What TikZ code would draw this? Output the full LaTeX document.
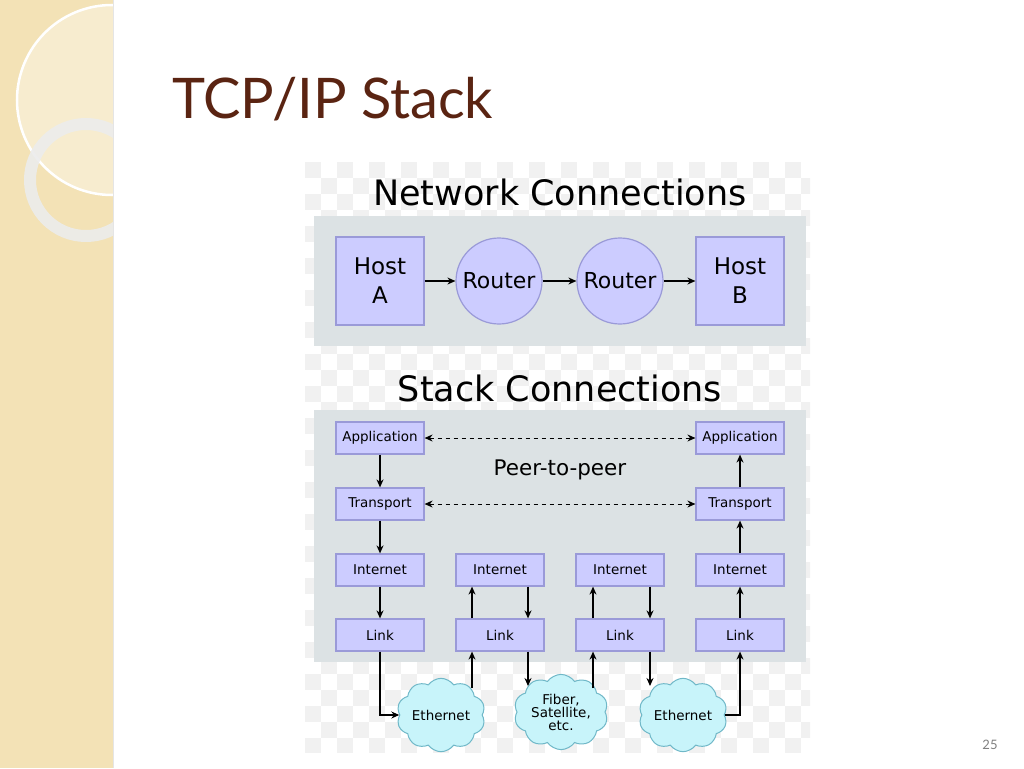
\documentclass[tikz,border=0pt]{standalone}
\usepackage{fontspec}
\setmainfont{DejaVu Sans}
\newfontfamily\titlefont{Lato}
\usetikzlibrary{shapes.symbols,arrows.meta}
\definecolor{beige}{HTML}{F3E2B6}
\definecolor{titlec}{HTML}{5A2412}
\definecolor{panel}{HTML}{DCE2E4}
\definecolor{boxf}{HTML}{CCCCFF}
\definecolor{boxd}{HTML}{9A9AD8}
\definecolor{cloudf}{HTML}{C8F4FA}
\definecolor{cloudd}{HTML}{70B8C8}
\definecolor{chk}{HTML}{F1F1F1}
\tikzset{
 box/.style={draw=boxd,fill=boxf,line width=1.2pt,minimum width=88pt,minimum height=32pt,inner sep=0pt,font=\fontsize{13.5}{15}\selectfont},
 host/.style={box,minimum height=88pt,align=center,font=\fontsize{23}{29}\selectfont},
 router/.style={draw=boxd,fill=boxf,line width=1.2pt,circle,minimum size=86pt,inner sep=0pt,font=\fontsize{22}{28}\selectfont},
 cld/.style={cloud,cloud puffs=10,cloud puff arc=110,aspect=1.3,draw=cloudd,fill=cloudf,line width=1pt,minimum width=88pt,minimum height=72pt,inner sep=0pt,align=center,font=\fontsize{13.5}{13}\selectfont},
 ar/.style={-{Stealth[length=8pt,width=7pt]},line width=1.3pt},
 dar/.style={{Stealth[length=8pt,width=7pt]}-{Stealth[length=8pt,width=7pt]},line width=1pt,dash pattern=on 4pt off 4pt},
 hd/.style={font=\fontsize{35}{40}\selectfont}
}
\begin{document}
\begin{tikzpicture}[x=1pt,y=-1pt]
\useasboundingbox (0,0) rectangle (1024,768);
\fill[white] (0,0) rectangle (1024,768);
% left strip
\begin{scope}
\clip (0,0) rectangle (113,768);
\fill[beige] (0,0) rectangle (113,768);
\fill[white,opacity=0.35] (112,100) circle (95);
\draw[white,line width=2.5pt] (112,100) circle (95);
\draw[white!85!gray,line width=12pt,opacity=0.9] (86,180) circle (56);
\end{scope}
\draw[white!80!gray,line width=0.8pt] (113,0) -- (113,768);
% title
\node[anchor=base west,text=titlec,inner sep=0pt,font=\titlefont\fontsize{56}{60}\selectfont] (title) at (172,118) {TCP/IP Stack};
\node[text=gray,font=\titlefont\fontsize{13}{14}\selectfont] (pg) at (990,745) {25};
% checker background
\begin{scope}
\clip (305,162) rectangle (810,752);
\foreach \i in {0,...,32}{\foreach \j in {0,...,37}{
 \pgfmathtruncatemacro\myparity{mod(\i+\j,2)}
 \ifnum\myparity=0 \fill[chk] (305+\i*16,162+\j*16) rectangle ++(16,16);\fi}}
\end{scope}
\fill[panel] (314,216) rectangle (806,346);
\fill[panel] (314,410) rectangle (806,662);
\node[hd] (h1) at (560,192) {Network Connections};
\node[hd] (h2) at (560,388) {Stack Connections};
% network
\node[host] (ha) at (380,281) {Host\\A};
\node[router] (r1) at (499,281) {Router};
\node[router] (r2) at (620,281) {Router};
\node[host] (hb) at (740,281) {Host\\B};
\draw[ar] (ha) -- (r1);
\draw[ar] (r1) -- (r2);
\draw[ar] (r2) -- (hb);
% stack
\node[box] (a1) at (380,438) {Application};
\node[box] (t1) at (380,504) {Transport};
\node[box] (i1) at (380,570) {Internet};
\node[box] (l1) at (380,635) {Link};
\node[box] (i2) at (500,570) {Internet};
\node[box] (l2) at (500,635) {Link};
\node[box] (i3) at (620,570) {Internet};
\node[box] (l3) at (620,635) {Link};
\node[box] (a4) at (740,438) {Application};
\node[box] (t4) at (740,504) {Transport};
\node[box] (i4) at (740,570) {Internet};
\node[box] (l4) at (740,635) {Link};
\node[font=\fontsize{21.5}{24}\selectfont] (p2p) at (560,470) {Peer-to-peer};
\draw[dar] (a1) -- (a4);
\draw[dar] (t1) -- (t4);
\draw[ar] (a1) -- (t1);
\draw[ar] (t1) -- (i1);
\draw[ar] (i1) -- (l1);
\draw[ar] (l4) -- (i4);
\draw[ar] (i4) -- (t4);
\draw[ar] (t4) -- (a4);
\draw[ar] (l2.north -| 472,0) -- (i2.south -| 472,0);
\draw[ar] (i2.south -| 528,0) -- (l2.north -| 528,0);
\draw[ar] (l3.north -| 593,0) -- (i3.south -| 593,0);
\draw[ar] (i3.south -| 650,0) -- (l3.north -| 650,0);
% clouds
\node[cld] (c1) at (441,715) {Ethernet};
\node[cld,minimum width=94pt] (c2) at (561,712) {Fiber,\\Satellite,\\etc.};
\node[cld] (c3) at (683,715) {Ethernet};
\coordinate (e1) at (472,688);
\coordinate (e2) at (528,686);
\coordinate (e3) at (593,688);
\coordinate (e4) at (650,686);
\draw[ar] (l1) |- (c1.west);
\draw[ar] (e1) -- (l2.south -| e1);
\draw[ar] (l2.south -| e2) -- (e2);
\draw[ar] (e3) -- (l3.south -| e3);
\draw[ar] (l3.south -| e4) -- (e4);
\draw[ar] (c3.east) -| (l4);
\end{tikzpicture}
\end{document}
